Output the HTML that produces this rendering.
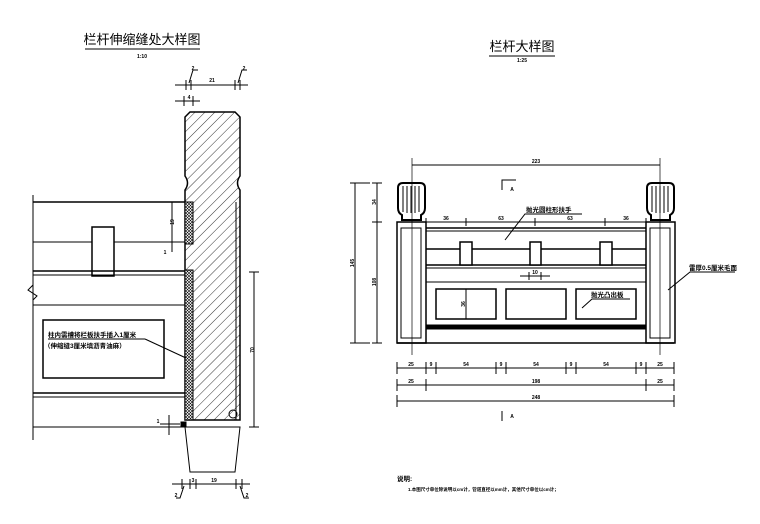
<!DOCTYPE html>
<html><head><meta charset="utf-8"><style>
html,body{margin:0;padding:0;background:#fff}
svg{display:block}
text{font-family:"Liberation Sans","Noto Sans CJK SC",sans-serif;font-weight:bold;fill:#000}
</style></head><body>
<svg width="760" height="524" viewBox="0 0 760 524" xmlns="http://www.w3.org/2000/svg">
<defs>
<pattern id="h" width="7" height="7" patternUnits="userSpaceOnUse" patternTransform="rotate(45)">
<line x1="0" y1="0" x2="0" y2="7" stroke="#000" stroke-width="0.8"/></pattern>
<pattern id="x" width="3" height="3" patternUnits="userSpaceOnUse">
<rect width="3" height="3" fill="#fff"/><path d="M0 0L3 3M3 0L0 3" stroke="#000" stroke-width="0.6"/></pattern>
</defs>
<g fill="none" stroke="#000" stroke-width="1">
<line x1="85" y1="49" x2="200" y2="49"/>
<path d="M190 112 L235 112 L240 117 L240 176 Q235 183 240 190 L240 420 L185 420 L185 190 Q190 183 185 176 L185 117 Z" fill="url(#h)" stroke-width="1.5"/>
<line x1="236" y1="202" x2="236" y2="420"/>
<rect x="185" y="202" width="8" height="42" fill="url(#x)"/>
<rect x="185" y="270" width="8" height="150" fill="url(#x)"/>
<line x1="33" y1="195" x2="33" y2="440"/>
<line x1="33" y1="202" x2="185" y2="202" stroke-width="1.5"/>
<line x1="33" y1="242" x2="185" y2="242"/>
<line x1="185" y1="202" x2="185" y2="242"/>
<rect x="92" y="227" width="22" height="49" stroke-width="1.5" fill="#fff"/>
<line x1="33" y1="271" x2="185" y2="271" stroke-width="1.5"/>
<line x1="33" y1="275" x2="185" y2="275"/>
<path d="M33 285 L28 290 L37 296 L33 300"/>
<line x1="33" y1="305" x2="185" y2="305"/>
<rect x="43" y="320" width="121" height="58" stroke-width="1.5"/>
<line x1="48" y1="339" x2="145" y2="339"/>
<line x1="145" y1="339" x2="186" y2="358"/>
<line x1="33" y1="393" x2="185" y2="393" stroke-width="1.5"/>
<line x1="33" y1="397" x2="185" y2="397"/>
<line x1="33" y1="427" x2="185" y2="427"/>
<rect x="181" y="422" width="5" height="5" fill="#000"/>
<circle cx="233" cy="414" r="4"/>
<path d="M185 427 L240 427 L235 472 L190 472 Z"/>
<line x1="175" y1="85" x2="248" y2="85"/><line x1="186" y1="80" x2="186" y2="90"/><line x1="191" y1="80" x2="191" y2="90"/><line x1="235" y1="80" x2="235" y2="90"/><line x1="240" y1="80" x2="240" y2="90"/>
<path d="M189 83 L193 70 L198 70 M238 83 L242 70 L247 70"/>
<line x1="175" y1="101" x2="200" y2="101"/><line x1="184" y1="96" x2="184" y2="106"/><line x1="193" y1="96" x2="193" y2="106"/>
<line x1="172" y1="202" x2="172" y2="252"/><line x1="167" y1="242" x2="177" y2="242"/>
<line x1="254" y1="272" x2="254" y2="427"/><line x1="249" y1="272" x2="259" y2="272"/><line x1="249" y1="427" x2="259" y2="427"/>
<line x1="160" y1="424" x2="180" y2="424"/><line x1="169" y1="415" x2="169" y2="435"/>
<line x1="172" y1="484" x2="250" y2="484"/><line x1="182" y1="479" x2="182" y2="489"/><line x1="190" y1="479" x2="190" y2="489"/><line x1="196" y1="479" x2="196" y2="489"/><line x1="236" y1="479" x2="236" y2="489"/><line x1="242" y1="479" x2="242" y2="489"/>
<path d="M184 486 L180 498 L176 498 M240 486 L244 498 L249 498"/>

<line x1="489" y1="56" x2="555" y2="56"/>
<g id="post">
<path d="M403 183 H420 Q425 183 425 188 V208 Q425 213 421 215 V220 H402 V215 Q398 213 398 208 V188 Q398 183 403 183 Z" stroke-width="2"/>
<path d="M403 186V212M407 186V213M411 186V213M415 186V213M419 186V212"/>
<rect x="397" y="222" width="29" height="121" stroke-width="1.5"/>
<rect x="401" y="228" width="20" height="110"/>
</g>
<use href="#post" transform="translate(249 0)"/>
<line x1="412" y1="158" x2="412" y2="355" stroke-width="0.7"/>
<line x1="660" y1="158" x2="660" y2="355" stroke-width="0.7"/>
<line x1="426" y1="228" x2="646" y2="228" stroke-width="1.5"/><line x1="426" y1="231" x2="646" y2="231"/>
<line x1="426" y1="249" x2="646" y2="249" stroke-width="1.5"/>
<line x1="426" y1="265" x2="646" y2="265" stroke-width="1.5"/><line x1="426" y1="268" x2="646" y2="268"/>
<rect x="460" y="242" width="12" height="23" fill="#fff" stroke-width="1.5"/>
<rect x="530" y="242" width="11" height="23" fill="#fff" stroke-width="1.5"/>
<rect x="600" y="242" width="12" height="23" fill="#fff" stroke-width="1.5"/>
<line x1="426" y1="282" x2="646" y2="282"/>
<rect x="436" y="289" width="60" height="30" stroke-width="1.5"/>
<rect x="506" y="289" width="60" height="30" stroke-width="1.5"/>
<rect x="576" y="289" width="60" height="30" stroke-width="1.5"/>
<rect x="426" y="325" width="220" height="4" fill="#000"/>
<line x1="397" y1="343" x2="674" y2="343" stroke-width="1.5"/>
<path d="M505 240 L525 214 L582 214"/>
<path d="M582 308 L592 299 L630 299"/>
<path d="M668 290 L690 272 L735 272"/>
<path d="M502 190 L502 180 L516 180"/>
<path d="M502 411 L502 421"/>
<line x1="412" y1="165" x2="660" y2="165"/>
<line x1="426" y1="222" x2="646" y2="222"/>
<path d="M426 218V226M466 218V226M535 218V226M605 218V226M646 218V226"/>
<path d="M520 276H550M529 272V280M541 272V280"/>
<line x1="466" y1="289" x2="466" y2="319"/>
<line x1="355" y1="183" x2="355" y2="343"/><path d="M350 183H370M350 343H370"/>
<line x1="377" y1="183" x2="377" y2="343"/><path d="M372 183H382M372 222H382M372 343H382"/>
<line x1="397" y1="368" x2="674" y2="368"/>
<path d="M397 362V374M426 362V374M436 362V374M496 362V374M506 362V374M566 362V374M576 362V374M636 362V374M646 362V374M674 362V374"/>
<line x1="397" y1="385" x2="674" y2="385"/>
<path d="M397 379V391M426 379V391M646 379V391M674 379V391"/>
<line x1="397" y1="401" x2="674" y2="401"/>
<path d="M397 395V407M674 395V407"/>
</g>
<text x="142" y="44" font-size="13" text-anchor="middle" style="font-weight:normal">栏杆伸缩缝处大样图</text>
<text x="142" y="58" font-size="5" text-anchor="middle">1:10</text>
<g font-size="5">
<text x="193" y="70" text-anchor="middle">2</text>
<text x="212" y="82" text-anchor="middle">21</text>
<text x="244" y="70" text-anchor="middle">2</text>
<text x="189" y="99" text-anchor="middle">4</text>
<text x="170" y="226" transform="rotate(-90 170 222)" text-anchor="middle">19</text>
<text x="165" y="254" text-anchor="middle">1</text>
<text x="158" y="423" text-anchor="middle">1</text>
<text x="252" y="352" transform="rotate(-90 252 350)" text-anchor="middle">70</text>
<text x="176" y="497" text-anchor="middle">2</text>
<text x="193" y="482" text-anchor="middle">3</text>
<text x="214" y="482" text-anchor="middle">19</text>
<text x="247" y="497" text-anchor="middle">2</text>
</g>
<text x="48" y="337" font-size="6.5">柱内需槽将栏板扶手插入1厘米</text>
<text x="44" y="348" font-size="6.5">（伸缩缝3厘米填沥青油麻）</text>

<text x="522" y="51" font-size="13" text-anchor="middle" style="font-weight:normal">栏杆大样图</text>
<text x="522" y="62" font-size="5" text-anchor="middle">1:25</text>
<g font-size="5" text-anchor="middle">
<text x="536" y="163">223</text>
<text x="512" y="191">A</text><text x="512" y="418">A</text>
<text x="446" y="220">36</text><text x="501" y="220">63</text><text x="570" y="220">63</text><text x="626" y="220">36</text>
<text x="535" y="274">10</text>
<text x="463" y="306" transform="rotate(-90 463 304)">36</text>
<text x="352" y="265" transform="rotate(-90 352 263)">145</text>
<text x="374" y="204" transform="rotate(-90 374 202)">34</text>
<text x="374" y="284" transform="rotate(-90 374 282)">108</text>
<text x="411" y="366">25</text><text x="431" y="366">9</text><text x="466" y="366">54</text><text x="501" y="366">9</text><text x="536" y="366">54</text><text x="571" y="366">9</text><text x="606" y="366">54</text><text x="641" y="366">9</text><text x="660" y="366">25</text>
<text x="411" y="383">25</text><text x="536" y="383">198</text><text x="660" y="383">25</text>
<text x="536" y="399">248</text>
</g>
<text x="526" y="212" font-size="6.5">抛光圆柱形扶手</text>
<text x="591" y="297" font-size="6.5">抛光凸出板</text>
<text x="689" y="270" font-size="6.5">雷厚0.5厘米毛面</text>
<text x="397" y="481" font-size="6.5">说明:</text>
<text x="408" y="491" font-size="4.5">1.本图尺寸单位除说明以cm计，管道直径以mm计，其他尺寸单位以cm计；</text>
</svg>
</body></html>
